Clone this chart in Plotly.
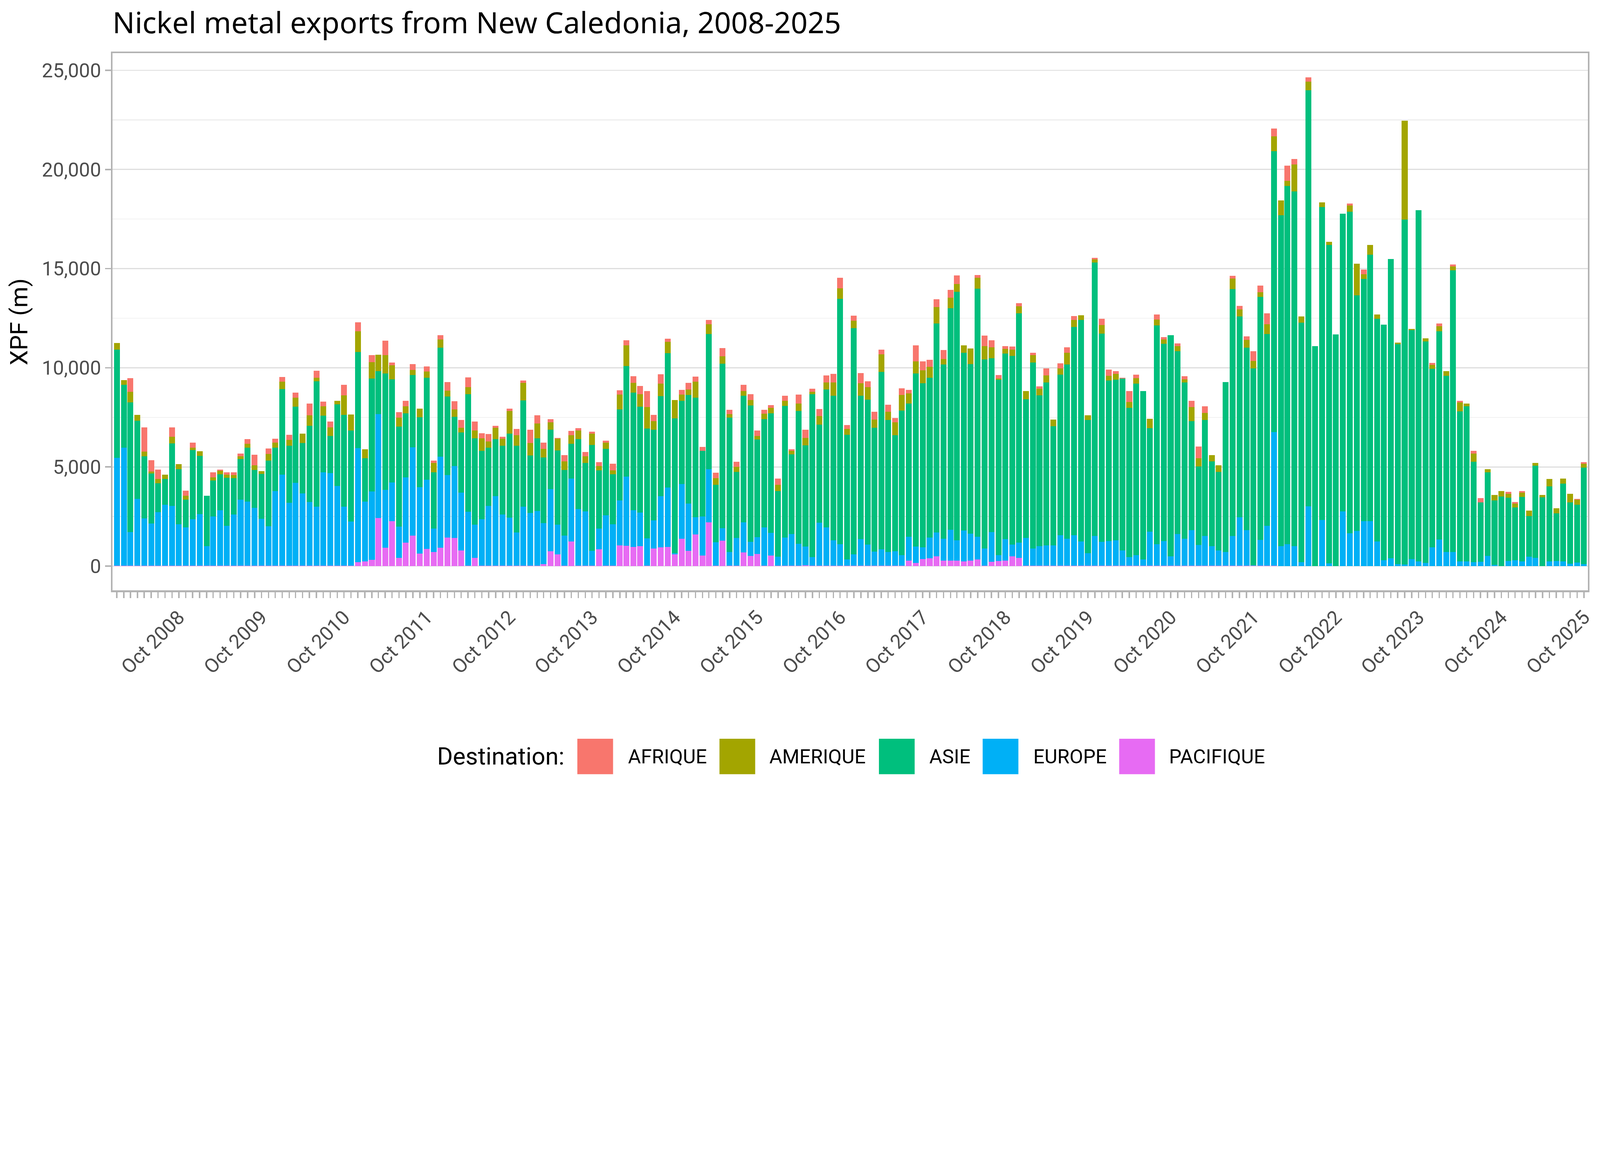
import plotly.graph_objects as go
import pandas as pd

# ---------------- data ----------------
months = pd.date_range("2008-01-01", periods=214, freq="MS")

afrique = [
    0, 0, 690, 0, 1220, 570, 470, 0, 480, 0, 250, 250,
    0, 0, 250, 60, 110, 140, 150, 230, 530, 0, 270, 200,
    230, 250, 250, 0, 580, 350, 240, 290, 0, 530, 0, 460,
    0, 360, 0, 740, 150, 290, 280, 310, 0, 260, 110, 220,
    440, 420, 400, 490, 450, 240, 360, 100, 100, 110, 320, 130,
    680, 430, 310, 160, 50, 320, 220, 110, 230, 100, 180, 110,
    350, 220, 240, 340, 410, 810, 320, 470, 160, 0, 230, 330,
    270, 200, 230, 260, 420, 200, 240, 320, 280, 280, 180, 150,
    310, 260, 80, 450, 410, 160, 340, 350, 440, 530, 190, 250,
    520, 300, 400, 240, 340, 210, 340, 180, 800, 470, 370, 390,
    450, 390, 420, 0, 0, 140, 520, 360, 180, 140, 170, 160,
    0, 120, 120, 350, 0, 270, 290, 200, 0, 0, 80, 330,
    310, 140, 40, 540, 180, 0, 0, 260, 130, 0, 130, 160,
    330, 590, 320, 0, 0, 0, 140, 170, 190, 490, 330, 550,
    380, 0, 780, 280, 0, 200, 0, 0, 0, 0, 0, 100,
    0, 230, 0, 0, 0, 0, 0, 0, 0, 0, 0, 100,
    130, 0, 80, 80, 0, 140, 220, 0, 0, 0, 100, 60,
    90, 0, 0, 0, 0, 0, 0, 0, 40, 60,
]

amerique = [
    340, 230, 530, 300, 250, 90, 220, 200, 330, 250, 210, 120,
    240, 0, 160, 170, 150, 150, 140, 200, 240, 140, 340, 250,
    380, 290, 460, 470, 540, 180, 480, 440, 180, 990, 810, 1050,
    450, 830, 830, 920, 710, 440, 360, 250, 420, 310, 470, 410,
    300, 370, 240, 370, 380, 630, 320, 580, 360, 1150, 530, 870,
    620, 730, 440, 370, 590, 440, 440, 440, 340, 570, 220, 320,
    200, 760, 1050, 490, 630, 1090, 420, 640, 580, 920, 320, 270,
    800, 0, 480, 340, 360, 180, 260, 240, 290, 180, 280, 260,
    320, 260, 180, 360, 380, 120, 440, 360, 660, 530, 300, 380,
    640, 620, 420, 880, 420, 660, 780, 510, 620, 650, 540, 830,
    280, 530, 400, 380, 790, 540, 680, 540, 60, 240, 310, 360,
    410, 370, 350, 350, 330, 300, 580, 350, 230, 250, 160, 420,
    240, 300, 0, 300, 270, 0, 480, 290, 220, 0, 250, 160,
    710, 410, 370, 330, 330, 0, 540, 370, 390, 380, 230, 500,
    760, 760, 260, 1350, 310, 440, 0, 250, 160, 0, 0, 310,
    1590, 230, 490, 210, 0, 0, 80, 5000, 70, 0, 160, 190,
    260, 230, 210, 440, 140, 420, 0, 150, 290, 280, 210, 210,
    210, 280, 130, 130, 380, 260, 250, 450, 250, 210,
]

asie = [
    5450, 3170, 6540, 3950, 3120, 2530, 1460, 1310, 3150, 2780, 1390, 3490,
    2950, 2550, 1800, 1810, 2440, 1830, 2050, 2730, 1900, 2250, 3310, 2190,
    4320, 2880, 3850, 2540, 3850, 6320, 2850, 1880, 4110, 4620, 4590, 4850,
    2190, 5680, 2170, 5870, 5190, 5050, 3220, 3640, 3540, 5150, 2840, 5510,
    3950, 2490, 3020, 5930, 4360, 3460, 2930, 2870, 3460, 4240, 4360, 5360,
    2900, 3670, 3310, 3000, 3750, 3310, 1750, 3530, 2440, 5340, 2950, 3340,
    2510, 4590, 5580, 5920, 5340, 5540, 4580, 5030, 6780, 6800, 4200, 5480,
    6020, 3300, 6820, 2900, 8310, 6790, 3330, 6370, 6870, 4920, 5460, 6030,
    3310, 6630, 4010, 6710, 5100, 8210, 4940, 6950, 7290, 12380, 6290, 11410,
    7220, 7320, 6250, 8950, 6670, 5850, 7290, 6710, 8730, 8260, 8060, 10540,
    8790, 11170, 12530, 8950, 8550, 12510, 9540, 8770, 8840, 9350, 9510, 11550,
    7000, 9370, 7590, 8210, 6010, 8100, 8800, 10500, 11180, 6720, 13790, 10520,
    8110, 8100, 8670, 7520, 8660, 8490, 5210, 11030, 9950, 11140, 9220, 7880,
    5480, 3950, 5840, 4260, 3970, 8580, 12440, 10110, 9200, 9920, 12270, 9670,
    14170, 16690, 18060, 17900, 12080, 20990, 11090, 15770, 16070, 11680, 15020, 16220,
    11870, 12230, 13450, 11250, 11890, 15100, 11090, 17400, 11530, 17710, 11160, 9010,
    10510, 8890, 14200, 7580, 7810, 5060, 2990, 4220, 3240, 3500, 3180, 2650,
    3260, 2050, 4650, 3460, 3780, 2410, 3930, 3090, 2920, 4870,
]

europe = [
    5440, 5950, 1700, 3360, 2390, 2120, 2700, 3070, 3020, 2090, 1930, 2340,
    2590, 980, 2490, 2800, 2000, 2580, 3320, 3220, 2920, 2370, 1980, 3760,
    4580, 3170, 4170, 3640, 3200, 2980, 4710, 4660, 4020, 2980, 2220, 5750,
    3000, 3460, 5230, 2920, 1950, 1580, 3290, 4460, 3340, 3490, 1190, 4580,
    3160, 3620, 2930, 2710, 1680, 2340, 3020, 3510, 2580, 2420, 1680, 2980,
    2660, 2760, 2070, 3120, 1490, 1510, 3170, 2850, 2730, 750, 1030, 2540,
    2090, 2250, 3490, 1850, 1700, 1370, 1420, 2580, 2980, 70, 2760, 2390,
    880, 1980, 2680, 1180, 620, 680, 1400, 1530, 710, 850, 1930, 1150,
    450, 1420, 1600, 1100, 950, 430, 2170, 1930, 1280, 1080, 310, 570,
    1340, 1060, 700, 820, 680, 720, 530, 1210, 830, 600, 1050, 1210,
    1110, 1570, 1030, 1570, 1370, 1150, 860, 1510, 290, 1080, 590, 770,
    1400, 870, 990, 1030, 1030, 1540, 1350, 1540, 1210, 620, 1500, 1190,
    1230, 1270, 760, 440, 520, 320, 1720, 1090, 1230, 480, 1600, 1350,
    1800, 1050, 1500, 990, 760, 680, 1500, 2450, 1790, 20, 1290, 2010,
    6730, 1000, 1100, 1000, 190, 3010, 0, 2330, 130, 0, 2750, 1650,
    1780, 2260, 2260, 1230, 290, 390, 100, 70, 360, 230, 160, 940,
    1330, 710, 710, 230, 240, 190, 210, 510, 60, 0, 260, 300,
    230, 470, 410, 0, 230, 250, 230, 110, 170, 90,
]

pacifique = [
    20, 20, 20, 20, 20, 20, 20, 20, 20, 20, 20, 20,
    20, 20, 20, 20, 20, 20, 20, 20, 20, 20, 20, 20,
    20, 20, 20, 20, 20, 20, 20, 20, 20, 20, 20, 190,
    240, 310, 2430, 920, 2270, 410, 1190, 1530, 630, 860, 700, 930,
    1430, 1420, 780, 20, 410, 20, 20, 20, 20, 20, 20, 20,
    20, 20, 90, 750, 590, 20, 1240, 20, 20, 20, 850, 20,
    20, 1050, 1020, 970, 1000, 20, 880, 950, 970, 580, 1370, 760,
    1590, 530, 2210, 20, 1280, 20, 20, 680, 510, 610, 20, 530,
    20, 20, 20, 20, 30, 20, 20, 20, 20, 20, 20, 20,
    20, 20, 20, 20, 20, 20, 20, 270, 150, 350, 390, 490,
    270, 270, 270, 230, 270, 330, 20, 210, 260, 280, 500, 420,
    20, 20, 20, 20, 20, 20, 20, 20, 20, 20, 20, 20,
    20, 20, 20, 20, 20, 20, 20, 20, 20, 20, 20, 20,
    20, 20, 20, 20, 20, 20, 20, 20, 20, 20, 20, 20,
    20, 0, 0, 0, 0, 0, 0, 0, 0, 0, 0, 0,
    0, 0, 0, 0, 0, 0, 0, 0, 0, 0, 0, 0,
    0, 0, 0, 0, 0, 0, 0, 0, 0, 0, 0, 0,
    0, 0, 0, 0, 0, 0, 0, 0, 0, 0,
]

tick_dates = ["2008-10-01", "2009-10-01", "2010-10-01", "2011-10-01", "2012-10-01",
              "2013-10-01", "2014-10-01", "2015-10-01", "2016-10-01", "2017-10-01",
              "2018-10-01", "2019-10-01", "2020-10-01", "2021-10-01", "2022-10-01",
              "2023-10-01", "2024-10-01", "2025-10-01"]
tick_labels = ["Oct 2008", "Oct 2009", "Oct 2010", "Oct 2011", "Oct 2012", "Oct 2013",
               "Oct 2014", "Oct 2015", "Oct 2016", "Oct 2017", "Oct 2018", "Oct 2019",
               "Oct 2020", "Oct 2021", "Oct 2022", "Oct 2023", "Oct 2024", "Oct 2025"]
y_ticks = [0, 5000, 10000, 15000, 20000, 25000]

# stacking order: first trace at the bottom
series = [
    ("PACIFIQUE", pacifique, "#E76BF3"),
    ("EUROPE", europe, "#00B0F6"),
    ("ASIE", asie, "#00BF7D"),
    ("AMERIQUE", amerique, "#A3A500"),
    ("AFRIQUE", afrique, "#F8766D"),
]
legend_order = ["AFRIQUE", "AMERIQUE", "ASIE", "EUROPE", "PACIFIQUE"]
colors = {n: c for n, _, c in series}

# ---------------- layout constants (px on the 6000x3000 canvas) ----------------
W, H = 6000, 3000
PL, PR, PT, PB = 422, 5955, 199, 2214
GREY = "#b3b3b3"
TXT = "#4d4d4d"

def px_x(x):
    return (x - PL) / (PR - PL)

def px_y(y):
    return (PB - y) / (PB - PT)

fig = go.Figure()
bar_w = 26 * 24 * 3600 * 1000
for name, vals, col in series:
    fig.add_trace(go.Bar(
        x=months, y=vals, name=name, width=bar_w,
        marker=dict(color=col, line=dict(width=0)),
        showlegend=False,
    ))

totals = [a + b + c + d + e for a, b, c, d, e in zip(afrique, amerique, asie, europe, pacifique)]
ymax = max(totals)

fig.update_layout(
    barmode="stack",
    width=W, height=H,
    margin=dict(l=PL, r=W - PR, t=PT, b=H - PB, pad=0),
    plot_bgcolor="white", paper_bgcolor="white",
    font=dict(family="Roboto", color=TXT),
    title=dict(
        text="Nickel metal exports from New Caledonia, 2008-2025",
        font=dict(family="Noto Sans", size=110, color="black"),
        x=0, xref="paper", xanchor="left",
        y=1 - 86 / H, yref="container", yanchor="middle",
    ),
    xaxis=dict(
        type="date",
        range=["2007-12-13", "2025-10-19"],
        tickmode="array", tickvals=tick_dates, ticktext=tick_labels,
        tickangle=-45,
        tickfont=dict(family="Roboto", size=74, color=TXT),
        ticks="outside", ticklen=22, tickwidth=5, tickcolor=GREY,
        showgrid=False, zeroline=False,
        showline=True, linecolor=GREY, linewidth=6, mirror=True,
        minor=dict(ticks="outside", dtick="M1", tick0="2008-01-01",
                   ticklen=22, tickwidth=5, tickcolor=GREY, showgrid=False),
    ),
    yaxis=dict(
        range=[-0.05 * ymax, 1.05 * ymax],
        tickmode="array", tickvals=y_ticks, tickformat=",d",
        tickfont=dict(family="Roboto", size=74, color=TXT),
        ticks="outside", ticklen=22, tickwidth=5, tickcolor=GREY,
        showgrid=True, gridcolor="#dedede", gridwidth=4,
        zeroline=False,
        showline=True, linecolor=GREY, linewidth=6, mirror=True,
        minor=dict(dtick=2500, tick0=0, showgrid=True, gridcolor="#e6e6e6",
                   gridwidth=2, ticks=""),
        title=dict(text="XPF (m)", font=dict(family="Roboto", size=90, color="black"),
                   standoff=25),
    ),
)

# ---------------- legend (drawn manually for large key swatches) ----------------
shapes = []
annotations = [dict(
    x=px_x(1637), y=px_y(2837), xref="paper", yref="paper",
    text="Destination:", showarrow=False, xanchor="left", yanchor="middle",
    font=dict(family="Roboto", size=90, color="black"),
)]
swatch_left = [2165, 2698, 3296, 3685, 4197]
label_left = [2353, 2883, 3483, 3873, 4382]
for name, sx, lx in zip(legend_order, swatch_left, label_left):
    shapes.append(dict(
        type="rect", xref="paper", yref="paper",
        x0=px_x(sx), x1=px_x(sx + 134), y0=px_y(2903), y1=px_y(2770),
        fillcolor=colors[name], line=dict(width=0), layer="above",
    ))
    annotations.append(dict(
        x=px_x(lx), y=px_y(2837), xref="paper", yref="paper",
        text=name, showarrow=False, xanchor="left", yanchor="middle",
        font=dict(family="Roboto", size=74, color="black"),
    ))
fig.update_layout(shapes=shapes, annotations=annotations)

# Fit the 6000x3000 figure into whatever viewport the page is opened in.
fit_script = """
(function(){
  var gd = document.getElementById('{plot_id}');
  document.documentElement.style.margin = '0';
  document.body.style.margin = '0';
  document.body.style.overflow = 'hidden';
  function fit(){
    var k = Math.min(window.innerWidth / 6000, window.innerHeight / 3000, 1);
    gd.style.transformOrigin = '0 0';
    gd.style.transform = 'scale(' + k + ')';
  }
  fit();
  window.addEventListener('resize', fit);
})();
"""

fig.write_html("out.html", post_script=fit_script,
               config={"displayModeBar": False, "staticPlot": True})
